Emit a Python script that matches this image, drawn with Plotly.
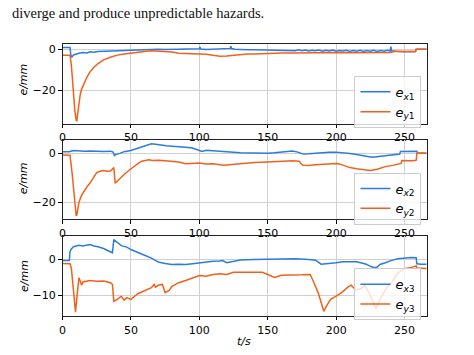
import plotly.graph_objects as go

# ---------------- data ----------------
t_ex1 = [0, 5.5, 6, 6.8, 8, 10, 12, 15, 18, 20, 23, 26, 30, 35, 40, 45, 50, 55, 60, 65, 70, 75, 80, 85, 90, 95,
         100, 100.5, 101, 105, 110, 115, 120, 122.5, 123, 123.5, 126, 130, 135, 140, 145, 150, 155, 160, 165, 170,
         172.5, 175, 177.5, 180, 182.5, 185, 187.5, 190, 192.5, 195, 197.5, 200, 202.5, 205, 207.5, 210, 212.5,
         215, 217.5, 220, 222.5, 225, 227.5, 230, 232.5, 235, 237.5, 239.5, 240, 240.5, 243, 246, 250, 255,
         258, 258.5, 262, 266]
ex1 = [0.8, 0.8, -2.5, -4.0, -2.8, -2.3, -2.0, -1.6, -1.8, -1.3, -1.5, -1.1, -1.0, -0.8, -0.6, -0.5, -0.4, -0.3,
       -0.2, -0.1, 0.0, -0.1, 0.1, 0.0, 0.1, 0.0, 0.2, 1.0, 0.1, -0.2, 0.0, 0.2, 0.3, 0.4, 1.4, 0.3, 0.0, -0.2,
       -0.3, -0.3, -0.4, -0.5, -0.4, -0.6, -0.5, -0.7,
       -0.3, -0.8, -0.4, -0.9, -0.5, -0.8, -0.4, -1.0, -0.5, -0.9, -0.4, -1.0, -0.6, -0.9, -0.5, -1.1, -0.6,
       -1.0, -0.5, -1.1, -0.6, -1.0, -0.5, -1.1, -0.6, -1.0, -0.5, -0.9, 1.3, -0.8, -1.0, -1.2, -1.1, -1.2,
       -1.1, 0.0, 0.1, 0.0]

t_ey1 = [0, 5.5, 6.5, 8, 9, 10, 10.5, 11, 12, 13, 14, 16, 18, 20, 23, 26, 30, 35, 40, 45, 50, 55, 60, 65, 70, 75,
         80, 85, 90, 95, 100, 105, 110, 115, 120, 125, 130, 135, 140, 150, 160, 170, 180, 190, 200, 210, 220, 230,
         240, 243, 245, 250, 255, 258, 258.5, 262, 266]
ey1 = [-2.9, -2.9, -8, -22, -30, -34.8, -35, -32, -26, -22, -19.5, -16, -13.5, -11.2, -8.8, -7, -5.2, -3.9, -2.9,
       -2.3, -1.8, -1.4, -1.1, -0.8, -1.0, -1.1, -1.4, -2.0, -2.1, -2.3, -2.2, -2.5, -3.0, -3.4, -3.3, -2.9, -2.6,
       -2.4, -2.3, -2.0, -1.8, -1.9, -1.7, -1.8, -1.6, -1.7, -1.6, -1.7, -1.6, -1.0, -1.1, -1.2, -1.0, -1.1, 0.0,
       0.1, 0.0]

t_ex2 = [0, 5, 8, 12, 16, 20, 25, 30, 35, 37, 38, 39, 42, 45, 50, 55, 60, 63, 65, 68, 72, 76, 80, 85, 90, 95, 100,
         102, 105, 110, 115, 120, 125, 130, 135, 140, 145, 150, 155, 160, 165, 168, 172, 176, 180, 185, 190, 195,
         200, 205, 210, 215, 220, 225, 228, 232, 236, 240, 245, 246.5, 247, 250, 255, 258, 259, 259.5, 266]
ex2 = [0.7, 0.7, 1.2, 1.0, 0.9, 1.0, 0.8, 0.8, 0.9, 0.5, -0.9, -0.4, 0.0, 0.7, 1.2, 2.0, 2.8, 3.3, 3.9, 3.7, 3.3,
       3.1, 2.9, 2.8, 2.5, 2.2, 1.2, 0.8, 1.3, 1.0, 0.7, 0.6, 0.4, 0.2, 0.1, 0.0, 0.0, 0.0, 0.2, 0.5, 1.1, 1.0,
       0.5, -0.3, -0.2, 0.1, 0.2, 0.4, 0.5, 0.3, -0.1, -0.5, -1.1, -1.5, -1.5, -1.2, -0.8, -0.6, -0.3, -0.3, 0.8,
       0.8, 0.9, 1.0, 0.9, 0.0, 0.0]

t_ey2 = [0, 5.5, 7, 8.5, 10, 10.5, 12, 14, 16, 18, 20, 22, 25, 28, 30, 33, 35, 36.5, 37.5, 38.5, 40, 42, 45, 48,
         50, 53, 56, 58, 60, 63, 66, 70, 75, 80, 85, 90, 95, 100, 105, 110, 115, 118, 122, 126, 130, 140, 150,
         160, 168, 173, 174.5, 176, 180, 185, 190, 195, 200, 203, 206, 210, 215, 220, 225, 230, 236, 242, 246,
         247.5, 248, 252, 256, 258.5, 259, 262, 266]
ey2 = [-0.7, -0.8, -8, -18, -25.5, -25, -20, -17, -15.2, -13.5, -12.2, -10.5, -7.8, -7.2, -7.0, -7.3, -7.2, -6.4,
       -5.8, -12.2, -11.3, -10.1, -8.6, -7.2, -6.3, -4.8, -3.8, -3.2, -3.0, -2.6, -2.9, -2.8, -3.0, -3.2, -3.5,
       -4.2, -4.0, -3.9, -4.3, -4.2, -4.6, -4.8, -4.6, -4.4, -4.0, -3.7, -3.5, -3.1, -3.0, -3.2, -4.3, -4.8,
       -4.9, -4.6, -4.4, -4.2, -4.1, -4.4, -5.0, -5.8, -6.3, -6.8, -7.0, -6.5, -5.4, -4.8, -4.3, -4.1, -2.9,
       -3.1, -3.0, -2.8, 0.0, 0.1, 0.0]

t_ex3 = [0, 5, 5.5, 6.5, 8, 10, 12, 15, 18, 20, 23, 26, 30, 33, 36.5, 37.5, 39, 41, 43, 45, 47, 50, 55, 60, 65,
         70, 75, 80, 85, 90, 95, 100, 105, 110, 115, 117, 120, 125, 130, 140, 150, 160, 170, 180, 185, 189, 194,
         200, 205, 210, 215, 218, 222, 225, 228, 230, 232, 236, 240, 245, 250, 255, 258.5, 259, 262, 266]
ex3 = [-0.3, -0.3, 2.3, 3.0, 3.6, 3.9, 4.0, 3.8, 4.0, 4.2, 3.8, 3.6, 3.1, 2.6, 1.9, 5.6, 5.0, 4.5, 3.9, 3.6, 3.5,
       2.8, 2.1, 1.2, 0.4, -0.7, -1.1, -1.4, -1.3, -1.4, -1.2, -0.9, -0.7, -0.5, -0.4, -0.3, -0.9, -0.5, -0.1,
       0.0, 0.1, 0.0, 0.2, 0.0, -0.2, -1.3, -1.2, -0.9, -0.6, -0.7, -0.6, -0.9, -1.3, -1.9, -2.3, -2.1, -1.4,
       -0.9, -0.3, 0.2, 0.5, 0.6, 0.5, -1.2, -1.3, -1.3]

t_ey3 = [0, 5.5, 6.5, 7.5, 9.5, 10.5, 12, 13, 14, 15, 17, 20, 25, 30, 35, 36.5, 37.5, 40, 43, 45, 47, 50, 55, 60,
         65, 67, 68, 70, 73, 75, 78, 80, 85, 90, 95, 100, 105, 110, 115, 120, 125, 130, 140, 146, 150, 155, 160,
         165, 170, 175, 181, 183, 187, 191, 193, 196, 200, 204, 209, 211, 214.5, 218, 221, 225, 229, 233, 237,
         241, 245, 250, 255, 258.5, 259, 262, 266]
ey3 = [-1.1, -1.2, -2.5, -6.5, -14.8, -10.7, -5.1, -6.0, -7.2, -6.3, -6.1, -5.9, -6.1, -6.0, -6.5, -7.0, -11.7,
       -11.2, -10.3, -11.4, -10.7, -11.2, -9.6, -8.7, -7.9, -7.0, -7.8, -7.2, -7.0, -9.3, -8.7, -7.5, -6.5, -5.9,
       -5.1, -4.5, -4.7, -4.2, -4.0, -4.2, -3.6, -3.6, -3.5, -3.6, -4.2, -5.0, -4.4, -4.3, -4.2, -4.3, -4.2,
       -5.8, -9.5, -14.5, -13.0, -11.2, -10.3, -9.3, -7.6, -7.2, -8.6, -8.2, -7.3, -10.0, -13.8, -10.5, -8.0,
       -6.2, -3.8, -2.6, -2.2, -1.8, -2.4, -2.5, -2.5]

x_ticks = [0, 50, 100, 150, 200, 250]
y_ticks = [[-20, 0], [-20, 0], [-10, 0]]
y_ranges = [[-36.4, 2.6], [-26.9, 5.6], [-15.8, 6.6]]
names = [("<i>e</i><sub><i>x</i>1</sub>", "<i>e</i><sub><i>y</i>1</sub>"),
         ("<i>e</i><sub><i>x</i>2</sub>", "<i>e</i><sub><i>y</i>2</sub>"),
         ("<i>e</i><sub><i>x</i>3</sub>", "<i>e</i><sub><i>y</i>3</sub>")]

# ---------------- figure ----------------
W, H = 474, 355
BLUE = "#2b7be0"
ORANGE = "#f4601a"
FONT = "DejaVu Sans"


def px(x):
    return x / W


def py(y):
    return 1 - y / H


series = [(t_ex1, ex1, t_ey1, ey1), (t_ex2, ex2, t_ey2, ey2), (t_ex3, ex3, t_ey3, ey3)]
tops = [43, 139, 235.7]
bots = [123, 219, 315.7]
legend_tops = [75, 172, 268]

fig = go.Figure()
layout = dict(width=W, height=H, margin=dict(l=0, r=0, t=0, b=0),
              paper_bgcolor="white", plot_bgcolor="white", showlegend=True,
              font=dict(family=FONT, size=11, color="black"))

for i, (tx, vx, ty, vy) in enumerate(series):
    k = "" if i == 0 else str(i + 1)
    lg = "legend" + k
    fig.add_trace(go.Scatter(x=tx, y=vx, mode="lines", name=names[i][0], line=dict(color=BLUE, width=1.5),
                             xaxis="x" + k, yaxis="y" + k, legend=lg))
    fig.add_trace(go.Scatter(x=ty, y=vy, mode="lines", name=names[i][1], line=dict(color=ORANGE, width=1.5),
                             xaxis="x" + k, yaxis="y" + k, legend=lg))
    ax = dict(domain=[px(59), px(427)], range=[0, 266.7], tickvals=x_ticks, ticks="outside", ticklen=3.5,
              tickcolor="black", showline=True, mirror=True, linecolor="#222", linewidth=1,
              showgrid=True, gridcolor="#d0d0d0", gridwidth=1, zeroline=False, anchor="y" + k,
              tickfont=dict(family=FONT, size=11, color="black"))
    ay = dict(domain=[py(bots[i]), py(tops[i])], range=y_ranges[i], tickvals=y_ticks[i],
              ticktext=["\u2212" + str(-v) if v < 0 else str(v) for v in y_ticks[i]],
              ticks="outside", ticklen=3.5, tickcolor="black", showline=True, mirror=True, linecolor="#222",
              linewidth=1, showgrid=True, gridcolor="#d0d0d0", gridwidth=1, zeroline=False, anchor="x" + k,
              tickfont=dict(family=FONT, size=11, color="black"))
    layout["xaxis" + k] = ax
    layout["yaxis" + k] = ay
    layout[lg] = dict(x=px(421), xanchor="right", y=py(legend_tops[i]), yanchor="top",
                      bgcolor="rgba(255,255,255,0.8)", bordercolor="#cccccc", borderwidth=1,
                      font=dict(family=FONT, size=13, color="black"), tracegroupgap=0, itemwidth=30)

fig.update_layout(**layout)

ann = []
for yc in [79, 178, 276]:
    ann.append(dict(text="<i>e/mm</i>", x=px(20), y=py(yc), xref="paper", yref="paper", showarrow=False,
                    xanchor="center", yanchor="middle",
                    textangle=-90, font=dict(family=FONT, size=11, color="black")))
ann.append(dict(text="<i>t/s</i>", x=px(242), y=py(341), xref="paper", yref="paper", showarrow=False,
                xanchor="center", yanchor="middle",
                font=dict(family=FONT, size=11, color="black")))
ann.append(dict(text="diverge and produce unpredictable hazards.", x=px(7), y=py(12.5), xref="paper",
                yref="paper", xanchor="left", yanchor="middle", showarrow=False, borderpad=0,
                font=dict(family="Liberation Serif", size=14.5, color="#111")))
fig.update_layout(annotations=ann)

# remove the browser's default 8px body margin so the figure sits at the window origin
fig.write_html("out.html", config={"displayModeBar": False},
               post_script="document.body.style.margin='0';")
